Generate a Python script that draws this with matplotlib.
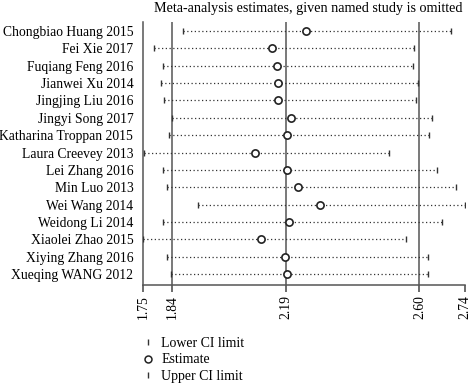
import numpy as np
import matplotlib
matplotlib.use("Agg")
import matplotlib.pyplot as plt
from matplotlib.lines import Line2D

plt.rcParams['font.family'] = ['Liberation Serif', 'DejaVu Serif']

studies = [
    "Chongbiao Huang 2015", "Fei Xie 2017", "Fuqiang Feng 2016",
    "Jianwei Xu 2014", "Jingjing Liu 2016", "Jingyi Song 2017",
    "Katharina Troppan 2015", "Laura Creevey 2013", "Lei Zhang 2016",
    "Min Luo 2013", "Wei Wang 2014", "Weidong Li 2014",
    "Xiaolei Zhao 2015", "Xiying Zhang 2016", "Xueqing WANG 2012",
]
lower = [1.874, 1.785, 1.811, 1.804, 1.815, 1.840, 1.831, 1.754,
         1.811, 1.825, 1.920, 1.813, 1.749, 1.823, 1.835]
estimate = [2.250, 2.146, 2.161, 2.164, 2.166, 2.205, 2.192, 2.095,
            2.192, 2.226, 2.295, 2.200, 2.113, 2.187, 2.194]
upper = [2.697, 2.584, 2.580, 2.595, 2.590, 2.640, 2.629, 2.505,
         2.654, 2.712, 2.741, 2.669, 2.558, 2.626, 2.626]
ref_lines = [1.84, 2.19, 2.60]
xticks = [1.75, 1.84, 2.19, 2.60, 2.74]

fig = plt.figure(figsize=(4.74, 3.84), dpi=100)
ax = fig.add_axes([0.3017, 0.2578, 0.981 - 0.3017, 0.9427 - 0.2578])

n = len(studies)
y = np.arange(n)
dark = "#333333"

for v in ref_lines:
    ax.axvline(v, color="#555555", linewidth=1.1, zorder=1)

for i in range(n):
    ax.plot([lower[i], upper[i]], [y[i], y[i]], linestyle=(0, (1, 2.0)),
            color=dark, linewidth=0.9, zorder=2)
ax.plot(lower, y, linestyle="none", marker="|", markersize=5,
        markeredgewidth=1.0, color=dark, zorder=3)
ax.plot(upper, y, linestyle="none", marker="|", markersize=5,
        markeredgewidth=1.0, color=dark, zorder=3)
ax.plot(estimate, y, linestyle="none", marker="o", markersize=5.2,
        markerfacecolor="white", markeredgecolor="#222222",
        markeredgewidth=1.2, zorder=4)

ax.set_ylim(n - 1 + 0.63, -0.52)
ax.set_xlim(1.75, 2.74)
ax.set_yticks(y)
ax.set_yticklabels(studies, fontsize=9.8)
ax.tick_params(axis="y", length=0, pad=7)
ax.set_xticks(xticks)
ax.set_xticklabels([f"{t:.2f}" for t in xticks], rotation=90, fontsize=9.8)
ax.tick_params(axis="x", length=5, width=1.1, color="#444444", pad=2)

for s in ["top", "right"]:
    ax.spines[s].set_visible(False)
for s in ["left", "bottom"]:
    ax.spines[s].set_color("#555555")
    ax.spines[s].set_linewidth(1.1)

fig.text(0.65, 0.977, "Meta-analysis estimates, given named study is omitted",
         ha="center", va="center", fontsize=10.2)

handles = [
    Line2D([], [], linestyle="none", marker="|", markersize=5, color=dark),
    Line2D([], [], linestyle="none", marker="o", markersize=5,
           markerfacecolor="white", markeredgecolor="#222222", markeredgewidth=1.1),
    Line2D([], [], linestyle="none", marker="|", markersize=5, color=dark),
]
fig.legend(handles, ["Lower CI limit", "Estimate", "Upper CI limit"],
           loc="upper left", bbox_to_anchor=(0.285, 0.137),
           bbox_transform=fig.transFigure, frameon=False, fontsize=10,
           handlelength=1.0, handletextpad=0.5, labelspacing=0.25,
           borderaxespad=0)

fig.savefig("out.png", dpi=100)
